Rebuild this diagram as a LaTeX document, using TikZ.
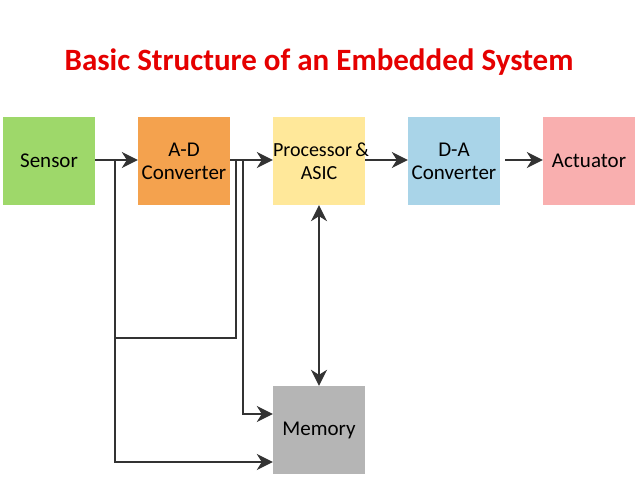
\documentclass[tikz,border=0pt]{standalone}
\usepackage{fontspec}
\setmainfont{Carlito}
\usetikzlibrary{arrows.meta}
\definecolor{sgreen}{HTML}{9ED86A}
\definecolor{adorange}{HTML}{F4A24E}
\definecolor{pyellow}{HTML}{FFE89A}
\definecolor{dablue}{HTML}{A9D4E8}
\definecolor{apink}{HTML}{F9AFAF}
\definecolor{mgray}{HTML}{B5B5B5}
\begin{document}
\begin{tikzpicture}[x=1pt,y=-1pt,
 box/.style={draw=none,text width=92pt,minimum height=88pt,align=center,font=\fontsize{21}{23}\selectfont,inner sep=0pt},
 ln/.style={draw=black!80,line width=1.6pt},
 arr/.style={ln,-{Stealth[length=16pt,width=16pt,inset=5pt]}}]
\useasboundingbox (0,0) rectangle (638,478);
\node[font=\bfseries\fontsize{31}{34}\selectfont,text=red!90!black] (t) at (319,62) {Basic Structure of an Embedded System};
\node[box,fill=sgreen] (s) at (49,161) {Sensor};
\node[box,fill=adorange] (ad) at (184,161) {A-D\\Converter};
\node[box,fill=pyellow] (p) at (319,161) {\fontsize{20}{23}\selectfont Processor\,\&\\ASIC};
\node[box,fill=dablue] (da) at (454,161) {D-A\\Converter};
\node[box,fill=apink] (a) at (589,161) {Actuator};
\node[box,fill=mgray] (m) at (319,430) {Memory};
\coordinate (c1) at (115,160);
\coordinate (c2) at (236,160);
\coordinate (c3) at (243,160);
\draw[arr] (s.east|-c1) -- (ad.west|-c1);
\draw[ln] (c1) |- (236,338) -- (c2);
\draw[arr] (c1) |- (m.west|-0,462);
\draw[arr] (c3) |- (m.west|-0,414);
\draw[arr] (ad.east|-c1) -- (p.west|-c1);
\draw[arr] (p.east|-c1) -- (da.west|-c1);
\draw[arr] ([xshift=5pt]da.east|-c1) -- (a.west|-c1);
\draw[ln,{Stealth[length=16pt,width=16pt,inset=5pt]}-{Stealth[length=16pt,width=16pt,inset=5pt]}] (p.south) -- (m.north);
\end{tikzpicture}
\end{document}
